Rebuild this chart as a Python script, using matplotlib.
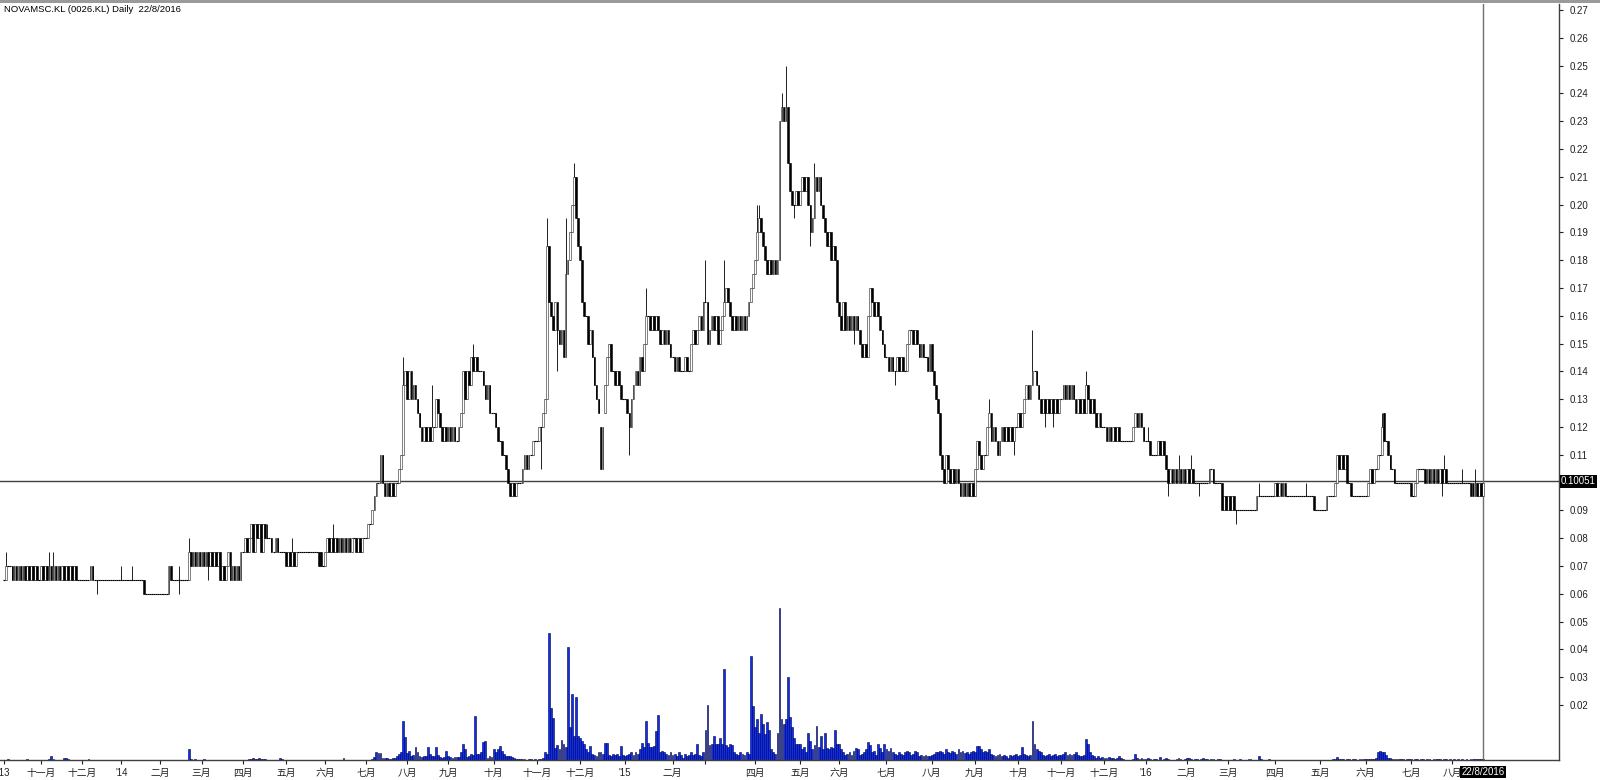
import re
import numpy as np
import matplotlib
matplotlib.use("Agg")
import matplotlib.pyplot as plt
from matplotlib.patches import Rectangle

plt.rcParams['font.family'] = ['Liberation Sans', 'Noto Sans CJK SC', 'DejaVu Sans']

# Price tokens per month, in ticks of 0.005:  close[o open][^high][v low]
TICK = 0.005
# volume heights, in units of 0.0001 on the shared axis
VOL_UNIT = 0.0001
LAST_LINE = 0.10051
TITLE = "NOVAMSC.KL (0026.KL) Daily  22/8/2016"
LAST_DATE = "22/8/2016"

months_2013 = ["'13", "十一月", "十二月"]
price_2013 = [
    "13 14^15 14 14 13 14 13 14 13 14 13 14 13 14 13 14 13 13",
    "14 13 14 13 14^15 13 14^15 13 14 13 14 13 14 13 14 13 14 13 13 13",
    "13 13 13 13 14 13 13 13v12 13 13 13 13 13 13 13 13 13 13 13",
]
volume_2013 = [
    "2 3 4 2 0 3 1 2 0 1 3 5 2 1 0 2 3 1",
    "1 2 3 2 5 15 6 2 1 3 2 8 8 7 2 1 0 2 1 2",
    "1 2 0 4 2 1 0 3 1 0 2 0 1 0 2 0 1 0 1",
]

months_2014 = ["'14", "二月", "三月", "四月", "五月", "六月", "七月", "八月", "九月", "十月", "十一月", "十二月"]
price_2014 = [
    "13^14 13 13 13 13 13^14 13 13 13 13 13 12 12 12 12 12 12 12 12",
    "12 12 12 12 14v12 13 13 13 13 13^14v12 13 13 13 13 15^16 14 15 14 15 14",
    "15 14 15 14v13 15 14 15 14 15 13 14 13 14 15 13 14 13 14 13 15",
    "15 16 15 16 17 15 17 16 17 15 17 16 16^17 16 15 15 16 15 15 15 15",
    "14 15 14 15^16 14 15 15 15 15 15 15 15 15 15 15 15 14 14o15 14",
    "15 16 15 16 15^17 16 15 16 15 16 15 16 15 16 16 15 16 15 16 16",
    "16 17 17 18 19 20 20 22 20 19 20 19 20 19 20 20 21 22 27^29 28",
    "26 28 26 27 26 25 24 23 24 23 24 23 24^27 24 26 25 24 23 24 23",
    "24 23 24 23 23 24 25 28 26 28 27 29 28^30 29 28 28 28 27 26 27 25 25",
    "25 24 23 23 22 22 21 20 19 20 19 20 20 20 21 22 21 22 22 23 23",
    "23 24 24v21 25 26 37^39 33 32 31 33 31v28 30 31 29 35^39 36 38 40 42^43 39 37",
    "36 33 32 32 30 31 29 27 26 25 21o24 24o21 27o25 29 30 28 28 27 28 27 26 26",
]
volume_2014 = [
    "0 3 1 0 2 0 3 0 0 1 0 2 0 0 1 0 2 0 1",
    "0 1 0 2 2 3 3 2 2 3 2 3 2 2 40 5 3 4 2 3",
    "3 4 2 1 0 2 1 0 1 2 0 1 3 1 2 0 1 2 0 1",
    "1 2 3 6 5 8 7 5 8 6 5 4 3 2 1 2 1 3 10 4 2",
    "1 0 2 0 1 3 0 1 0 2 0 1 0 2 0 1 0 0 1",
    "0 1 0 2 0 1 0 2 1 8 2 3 2 1 0 2 1 3 0 2",
    "2 3 1 4 12 30 28 27 10 8 8 6 7 8 10 18 22 30 141 84",
    "28 36 18 20 50 30 18 12 15 18 50 22 18 15 48 20 12 10 14 36",
    "15 12 10 12 12 14 30 60 40 12 15 24 20 160 22 25 30 68 72 10 18 12",
    "40 30 40 54 35 22 18 15 18 14 10 6 4 4 4 4 3 4 4 3 4",
    "3 4 5 10 32 25 460 190 153 45 55 40 75 60 50 410 120 240 90 230 88",
    "80 72 60 40 30 54 25 20 15 30 30 25 64 64 20 18 22 20 25 15 54 20",
]

months_2015 = ["'15", "二月", "", "四月", "五月", "六月", "七月", "八月", "九月", "十月", "十一月", "十二月"]
price_2015 = [
    "26 25 24v22 26 27 28 27 29 28 30 32^34 32 31 32 31 32 31 30 31 30 31 30 29",
    "29 28 29 28 28 28 29 28 28 30 31 30 31 32 31 33",
    "33^36 30 31 32 31 32 30 31 32 33^36 34 33 32 31 32 31 32 31 32 31 32 33 34 35",
    "36 38^40 39^40 38 37 36 35 36 35 36 35 36 46 47^48 46 47^50 43 41 40 40v39 41 40",
    "41 42 41 42 40 38v37 39 42^43 41 42 40 39 38 37 38 36 37 36 33",
    "32 31 33 31 32 31 32 31v30 32 31 30 29 30 29 32 34 33 32 33 32 31 30 29",
    "29 28 29 28 28v27 29 28 29 28 28 30 31 31 30 31 30 29 30 29 29 28 30",
    "28 27 26 25 22 21 20 22 21 20 21 20 21 20 19 20 19 20 19 20 19",
    "21 23 22 21 22 22 24 25^26 23 24 23 22 23 24 23 24 23 24 23 24v22 24",
    "25 24 25 26 27 26 27 28^31 28 27 26 25 26 25v24 26 25 26 25v24 26 25 26",
    "26 27 26 27 26 27 26 25 26 25 26 25 27^28 26 25 26 25 24 25 24 24",
    "24 23 24 23 24 23 24 23 23 23 23 23 23 23 24 25 24 25 24 23",
]
volume_2015 = [
    "15 20 25 30 20 30 25 40 64 50 141 64 48 50 52 106 165 30 35 30 25 20 30",
    "20 25 15 30 20 10 25 15 20 30 20 25 58 20 15 30",
    "110 200 55 60 88 60 60 80 60 330 55 50 60 55 30 25 20 30 25 20 30 22 375 198",
    "120 150 100 168 130 96 140 110 40 30 25 100 547 150 130 150 300 156 120 80 60 60",
    "60 40 50 30 100 70 40 55 126 50 90 40 100 45 40 50 45 110 60",
    "60 40 30 20 25 30 20 35 45 40 20 25 30 40 68 55 30 35 20 60 45 30 60",
    "40 35 45 30 25 20 30 25 20 30 35 30 20 25 36 30 18 20 15 20 15 18",
    "20 25 30 32 35 30 25 40 30 28 35 30 25 40 30 35 28 30 25 30 35",
    "30 54 54 40 30 35 30 40 25 20 15 20 25 15 20 15 10 20 15 20 25",
    "15 20 48 25 20 18 20 141 60 40 36 30 20 15 20 25 15 20 25 15 20",
    "20 25 30 20 25 20 25 30 20 15 15 20 78 60 30 20 15 10 15 10 12",
    "10 8 12 10 8 5 10 15 8 5 3 3 3 3 5 25 8 5 10 5",
]

months_2016 = ["'16", "二月", "三月", "四月", "五月", "六月", "七月", "八月"]
price_2016 = [
    "23 23^24 22 22 22 22 23 22 23 22 21 20v19 21 20 21 20 21^22 20 21 20",
    "21 20 21^22 20 20 20 20v19 20 20 20 20 21 21 20 20 20 20 18 19 18",
    "19 18 19 18 18v17 18 18 18 18 18 18 18 18 18 19 19^20 19 19 19 19 19 19 19",
    "20 19 20 19 20 19 19 19 19 19 19 19 19 19 19 19^20 19 19 19 18 18 18",
    "18 18 18 19 19 19 19 20 22 21 22 21 22 20 20 19 19 19 19 19 19 19",
    "19 20 21 20 21 21 22 22 24^25 23o25 23 22 21 21 20 20 20 20 20 20 20 20",
    "19 19 20 21 21 21 21 20 21 20 21 20 21 20 21 20v19 21^22 20 20 20",
    "20 20 20 20 20 20^21 20 20 20 19 19o20 20^21 19 20 19 20",
]
volume_2016 = [
    "5 8 5 3 5 4 3 12 3 5 8 5 3 2 3 5 10 5 3 4",
    "10 8 5 3 5 4 3 5 8 6 5 3 5 4 3 5 4 3 2 3",
    "3 2 3 5 3 2 5 3 2 3 4 5 3 2 3 18 6 3 2 3 4 2 3",
    "2 3 2 3 2 1 2 3 2 1 2 2 3 2 1 2 3 2 1 2 1 2",
    "2 3 2 3 2 3 4 5 14 6 5 4 3 5 4 3 5 4 3 5 6 4",
    "5 6 4 5 6 8 30 36 30 30 20 10 8 6 5 4 5 6 4 3 4 5",
    "4 3 5 4 3 4 5 3 4 5 3 4 5 6 4 3 5 4 3 4",
    "3 4 3 4 3 4 3 4 3 4 5 4 7 7 6 7",
]

# ---- unpack the tokens into OHLC + volume ----
TOKEN = re.compile(r'^(\d+)(?:o(\d+))?(?:\^(\d+))?(?:v(\d+))?$')
month_names = months_2013 + months_2014 + months_2015 + months_2016
month_prices = price_2013 + price_2014 + price_2015 + price_2016
month_vols = volume_2013 + volume_2014 + volume_2015 + volume_2016

opens, highs, lows, closes, vols, month_start = [], [], [], [], [], []
prev = None
for ptxt, vtxt in zip(month_prices, month_vols):
    month_start.append(len(closes))
    toks = ptxt.split()
    vv = [int(v) for v in vtxt.split()]
    if len(vv) != len(toks):
        print("length mismatch", len(toks), len(vv))
        vv = (vv + [0] * len(toks))[:len(toks)]
    for tok, v in zip(toks, vv):
        c, o, h, l = TOKEN.match(tok).groups()
        c = int(c)
        o = int(o) if o else (prev if prev is not None else c)
        hi = max(o, c, int(h) if h else 0)
        lo = min(o, c, int(l) if l else 99)
        opens.append(o); closes.append(c); highs.append(hi); lows.append(lo)
        vols.append(v)
        prev = c

o = np.array(opens) * TICK
c = np.array(closes) * TICK
h = np.array(highs) * TICK
l = np.array(lows) * TICK
vol = np.array(vols) * VOL_UNIT
n = len(c)
x = np.arange(n)

# ---- figure ----
fig = plt.figure(figsize=(16, 7.8), dpi=100)
ax = fig.add_axes([0, 20 / 780, 1559 / 1600, 756 / 780])

ax.bar(x, vol, width=0.9, facecolor='#0a2cff', edgecolor='#000030', linewidth=0.4, zorder=1)

ax.axhline(LAST_LINE, color='#404040', lw=1.0, zorder=2)
ax.axvline(n - 1, color='#707070', lw=1.0, zorder=2)

ax.vlines(x, l, h, color='#101010', lw=0.65, zorder=3)
up = c > o
dn = c < o
fl = c == o
ax.bar(x[up], (c - o)[up], bottom=o[up], width=0.8, facecolor='white',
       edgecolor='#202020', linewidth=0.4, zorder=4)
ax.bar(x[dn], (o - c)[dn], bottom=c[dn], width=0.8, facecolor='black',
       edgecolor='black', linewidth=0.4, zorder=4)
ax.hlines(c[fl], x[fl] - 0.5, x[fl] + 0.5, color='black', lw=0.8, zorder=4)

ax.set_xlim(-2, n + 36)
ax.set_ylim(0.0002, 0.27216)

for side in ('left', 'top'):
    ax.spines[side].set_visible(False)
for side in ('right', 'bottom'):
    ax.spines[side].set_color('#404040')
    ax.spines[side].set_linewidth(1.0)

# the last-price box sits where the 0.10 label would be, so that one stays blank
yt = np.arange(2, 28) / 100
ax.yaxis.tick_right()
ax.set_yticks(yt)
ax.set_yticklabels(["" if abs(v - 0.10) < 1e-9 else "%.2f" % v for v in yt])
ax.tick_params(axis='y', direction='out', length=3, width=0.8, labelsize=7,
               pad=4.5, colors='#202020')
ax.set_xticks(month_start)
ax.set_xticklabels(month_names)
ax.tick_params(axis='x', direction='out', length=3, width=0.8, labelsize=7,
               pad=2.5, colors='#202020')

box = dict(boxstyle='square,pad=0.15', fc='black', ec='none')
ax.text(1.0 + 2 / 1559, LAST_LINE, "%.5f" % LAST_LINE, transform=ax.get_yaxis_transform(),
        ha='left', va='center', fontsize=7, color='white', bbox=box)
ax.text(n - 1, -12 / 756, LAST_DATE, transform=ax.get_xaxis_transform(),
        ha='center', va='center', fontsize=7, color='white', bbox=box)

fig.patches.append(Rectangle((0, 1 - 3 / 780), 1, 3 / 780, transform=fig.transFigure,
                             facecolor='#9a9a9a', edgecolor='none'))
fig.text(4 / 1600, 1 - 10 / 780, TITLE, ha='left', va='center', fontsize=6.8, color='black')

fig.savefig('out.png', dpi=100)
